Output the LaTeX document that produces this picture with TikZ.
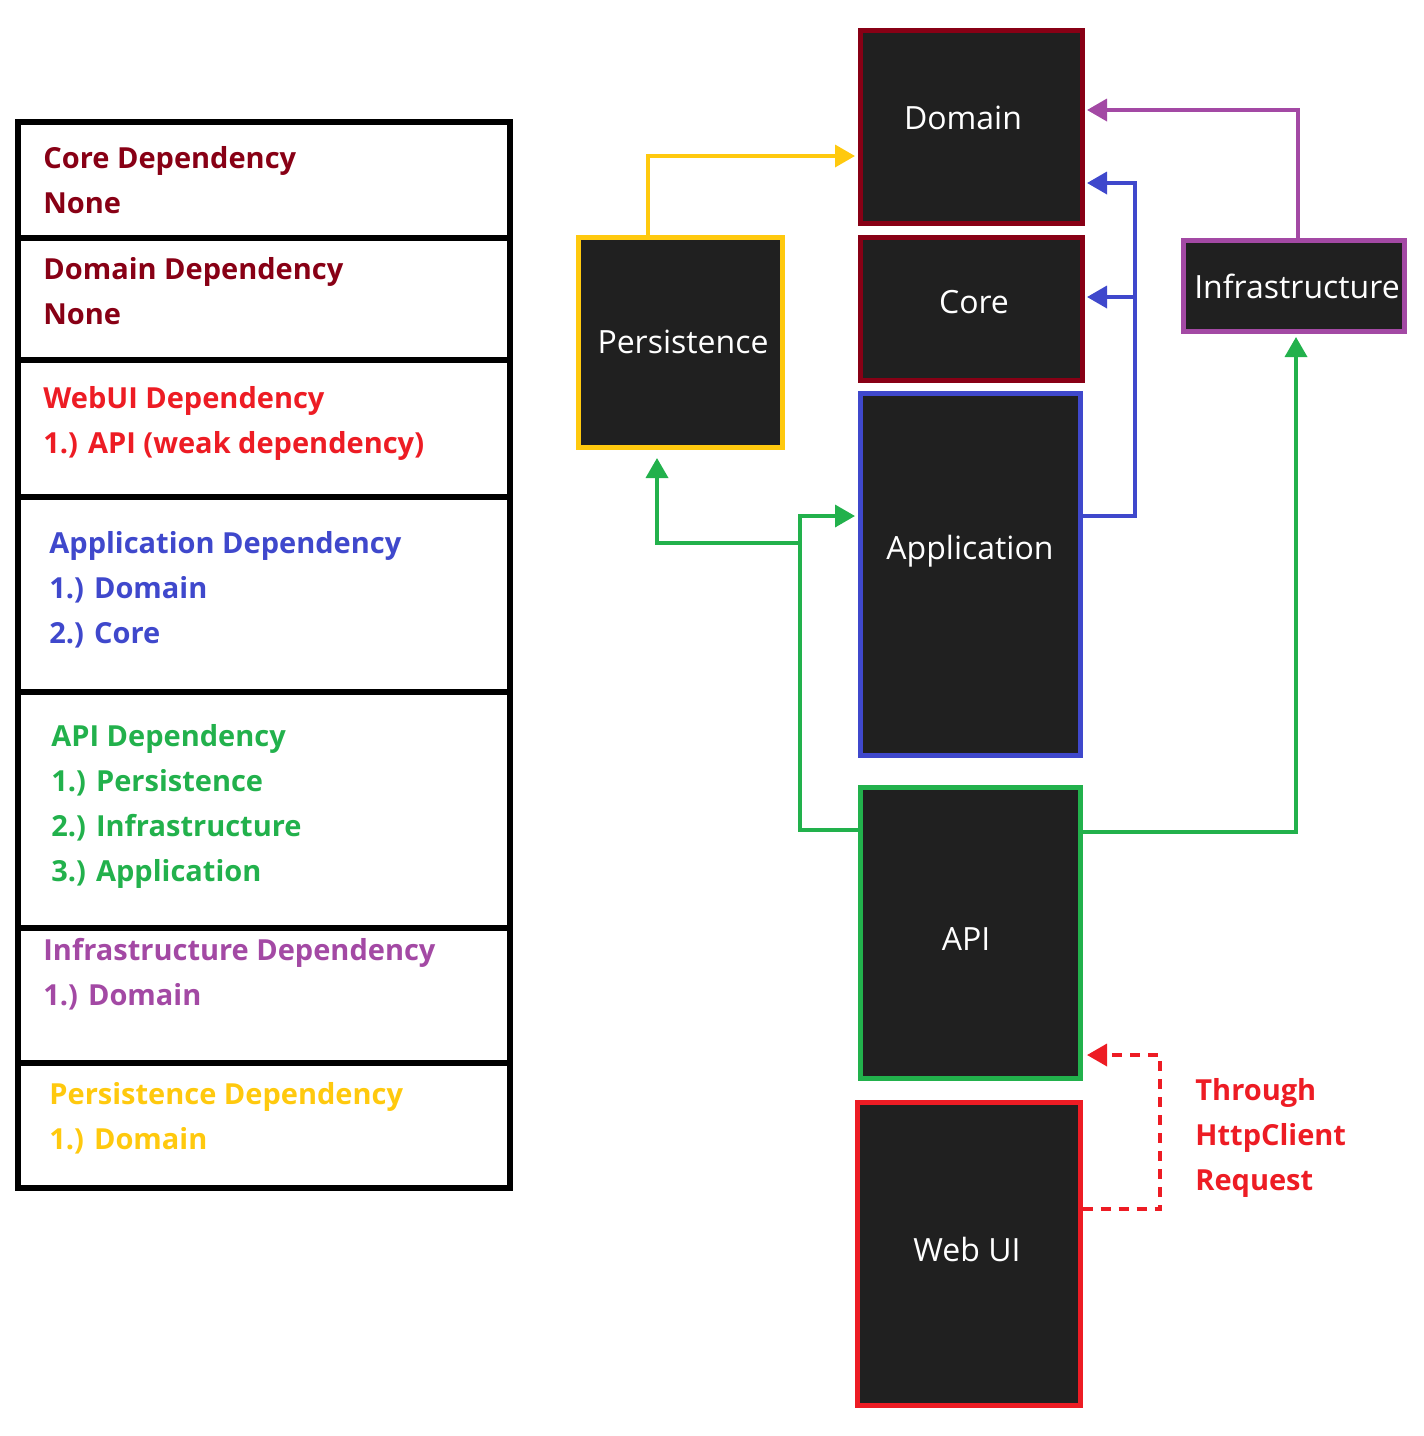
\documentclass[tikz,border=0pt]{standalone}
\usepackage{fontspec}
\setmainfont{Open Sans}
\usetikzlibrary{arrows.meta,calc}
\definecolor{dred}{HTML}{880015}
\definecolor{yel}{HTML}{FFC90E}
\definecolor{pur}{HTML}{A349A4}
\definecolor{blu}{HTML}{3F48CC}
\definecolor{grn}{HTML}{22B14C}
\definecolor{rd}{HTML}{ED1C24}
\definecolor{dk}{HTML}{202020}
\begin{document}
\begin{tikzpicture}[x=0.5pt,y=-0.5pt,
  blk/.style={draw=#1,line width=2.5pt,fill=dk,text=white,font=\fontsize{16}{19}\selectfont,inner sep=0},
  lt/.style={anchor=north west,align=left,font=\bfseries\fontsize{14.5}{22.5}\selectfont,inner sep=0},
  con/.style={line width=1.8pt,draw=#1,-{Triangle[length=10pt,width=11pt]}},
  con0/.style={line width=1.8pt,draw=#1}]
\useasboundingbox (0,0) rectangle (1424,1436);
% left table
\draw[line width=3pt] (18,122) rectangle (510,1188);
\foreach \y in {238,360,497,692,928,1063} \draw[line width=3.2pt] (18,\y) -- (510,\y);
\node[lt,text=dred] (t1) at (43,146) {Core Dependency\\None};
\node[lt,text=dred] (t2) at (43,257) {Domain Dependency\\None};
\node[lt,text=rd] (t3) at (43,386) {WebUI Dependency\\1.) API (weak dependency)};
\node[lt,text=blu] (t4) at (49,531) {Application Dependency\\1.) Domain\\2.) Core};
\node[lt,text=grn] (t5) at (51,724) {API Dependency\\1.) Persistence\\2.) Infrastructure\\3.) Application};
\node[lt,text=pur] (t6) at (43,938) {Infrastructure Dependency\\1.) Domain};
\node[lt,text=yel] (t7) at (49,1082) {Persistence Dependency\\1.) Domain};
% blocks
\path (860,30) coordinate (a1) (1082,223) coordinate (a2);
\node[blk=dred,fit/.style={},minimum width=111pt,minimum height=96.5pt] (dom) at (971,126.5) {};
\node at (963,118) [text=white,font=\fontsize{16}{19}\selectfont] (domt) {Domain};
\node[blk=dred,minimum width=111pt,minimum height=71.5pt] (core) at (971,308.5) {};
\node at (974,302) [text=white,font=\fontsize{16}{19}\selectfont] (coret) {Core};
\node[blk=yel,minimum width=102pt,minimum height=105pt] (pers) at (680,342) {};
\node at (683,342) [text=white,font=\fontsize{16}{19}\selectfont] (perst) {Persistence};
\node[blk=pur,minimum width=110.5pt,minimum height=45.5pt] (infra) at (1293.5,285.5) {};
\node at (1297,286) [text=white,font=\fontsize{16}{19}\selectfont] (infrat) {Infrastructure};
\node[blk=blu,minimum width=110pt,minimum height=181pt] (app) at (970,574) {};
\node at (970,551) [text=white,font=\fontsize{16}{19}\selectfont] (appt) {Application};
\node[blk=grn,minimum width=110pt,minimum height=145.5pt] (api) at (970,932.5) {};
\node at (966,939) [text=white,font=\fontsize{16}{19}\selectfont] (apit) {API};
\node[blk=rd,minimum width=111.5pt,minimum height=151.5pt] (web) at (968.5,1253.5) {};
\node at (967,1249) [text=white,font=\fontsize{16}{19}\selectfont] (webt) {Web UI};
% connectors
\draw[con=yel] (pers.north -| 648,0) |- (855,156);
\draw[con=pur] (1298,240) |- (1087,110);
\draw[con=blu] (app.east |- 0,516) -| (1135,183) -- (1087,183);
\draw[con=blu] (1135,297) -- (1087,297);
\draw[con=grn] (api.west |- 0,830) -| (800,516) -- (855,516);
\draw[con=grn] (800,543) -| (657,458);
\draw[con=grn] (api.east |- 0,832) -| (1296,337);
\draw[con=rd,dashed,dash pattern=on 5pt off 4pt] (web.east |- 0,1209) -| (1160,1055) -- (1087,1055);
\node[lt,text=rd] (lbl) at (1195,1078) {Through\\HttpClient\\Request};
\end{tikzpicture}
\end{document}
